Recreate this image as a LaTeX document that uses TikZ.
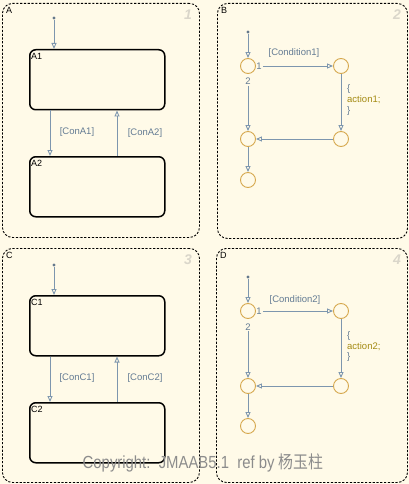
\documentclass[tikz,border=0pt]{standalone}
\usepackage{fontspec}
\setmainfont{Liberation Sans}
\newfontfamily\cjkfont{Noto Sans CJK SC}
\usetikzlibrary{arrows.meta}
\definecolor{bgcol}{HTML}{FFFAE8}
\definecolor{transcol}{HTML}{7D96AE}
\definecolor{labcol}{HTML}{637B93}
\definecolor{juncol}{HTML}{D6A84E}
\definecolor{actcol}{HTML}{A48A12}
\definecolor{numcol}{HTML}{DAD6CA}
\definecolor{copycol}{HTML}{8C8C8C}
\begin{document}
\begin{tikzpicture}[x=1pt,y=-1pt,
  panel/.style={draw=black, dash pattern=on 2.2pt off 1.6pt, line width=0.9pt, rounded corners=10pt, fill=bgcol, inner sep=0pt, anchor=north west},
  statebox/.style={draw=black, line width=1.5pt, rounded corners=6pt, minimum width=135pt, minimum height=60pt, inner sep=0pt, anchor=north west},
  junc/.style={circle, draw=juncol, line width=0.9pt, minimum size=15pt, inner sep=0pt},
  dflt/.style={circle, fill=transcol!80!black, minimum size=3.2pt, inner sep=0pt},
  trans/.style={draw=transcol, line width=0.9pt, -{Triangle[open, length=6pt, width=5pt]}},
  lab/.style={text=labcol, font=\fontsize{9.5}{10}\selectfont, inner sep=0pt},
  act/.style={text=actcol, font=\fontsize{9.5}{10}\selectfont, inner sep=0pt, anchor=west},
  brace/.style={text=labcol, font=\fontsize{9.5}{10}\selectfont, inner sep=0pt, anchor=west},
  pname/.style={font=\fontsize{9}{9}\selectfont, inner sep=0pt, anchor=west},
  pnum/.style={text=numcol, font=\fontsize{14}{14}\selectfont\bfseries\itshape, inner sep=0pt}
]
\fill[bgcol] (0,0) rectangle (409,484);
\useasboundingbox (0,0) rectangle (409,484);

% ---------- Panel A ----------
\node[panel, minimum width=197pt, minimum height=234pt] (PA) at (2,3) {};
\node[pname] (nA) at (6,10) {A};
\node[pnum] (kA) at (188,15) {1};
\node[statebox] (A1) at (29,49) {};
\node[statebox] (A2) at (29,156) {};
\node[pname] (nA1) at (31,56) {A1};
\node[pname] (nA2) at (31,163) {A2};
\node[dflt] (dA) at (54,18) {};
\draw[trans] (dA) -- ([xshift=25pt]A1.north west);
\draw[trans] ([xshift=21pt]A1.south west) -- ([xshift=21pt]A2.north west);
\draw[trans] ([xshift=88pt]A2.north west) -- ([xshift=88pt]A1.south west);
\node[lab] (cA1) at (77,132) {[ConA1]};
\node[lab] (cA2) at (145,133) {[ConA2]};

% ---------- Panel B ----------
\node[panel, minimum width=190pt, minimum height=235pt] (PB) at (217,3) {};
\node[pname] (nB) at (221,10) {B};
\node[pnum] (kB) at (397,15) {2};
\node[dflt] (dB) at (248,32) {};
\node[junc] (B1) at (248,66) {};
\node[junc] (B2) at (341,66) {};
\node[junc] (B3) at (341,139) {};
\node[junc] (B4) at (248,139) {};
\node[junc] (B5) at (248,180) {};
\draw[trans] (dB) -- (B1);
\draw[trans, shorten <=7pt] (B1) -- (B2);
\draw[trans] (B2) -- (B3);
\draw[trans] (B3) -- (B4);
\draw[trans, shorten <=12pt] (B1) -- (B4);
\draw[trans] (B4) -- (B5);
\node[lab] (cB) at (294,53) {[Condition1]};
\node[lab] (oB1) at (259,66) {1};
\node[lab] (oB2) at (248,81) {2};
\node[brace] (bB1) at (347,89) {\{};
\node[act] (aB) at (347,100) {action1;};
\node[brace] (bB2) at (347,111) {\}};

% ---------- Panel C ----------
\node[panel, minimum width=197pt, minimum height=234pt] (PC) at (2,248) {};
\node[pname] (nC) at (6,255) {C};
\node[pnum] (kC) at (188,260) {3};
\node[statebox] (C1) at (29,295) {};
\node[statebox] (C2) at (29,402) {};
\node[pname] (nC1) at (31,302) {C1};
\node[pname] (nC2) at (31,409) {C2};
\node[dflt] (dC) at (54,265) {};
\draw[trans] (dC) -- ([xshift=25pt]C1.north west);
\draw[trans] ([xshift=21pt]C1.south west) -- ([xshift=21pt]C2.north west);
\draw[trans] ([xshift=88pt]C2.north west) -- ([xshift=88pt]C1.south west);
\node[lab] (cC1) at (77,378) {[ConC1]};
\node[lab] (cC2) at (145,378) {[ConC2]};

% ---------- Panel D ----------
\node[panel, minimum width=191pt, minimum height=234pt] (PD) at (216,248) {};
\node[pname] (nD) at (220,255) {D};
\node[pnum] (kD) at (397,260) {4};
\node[dflt] (dD) at (248,277) {};
\node[junc] (D1) at (248,311) {};
\node[junc] (D2) at (341,311) {};
\node[junc] (D3) at (341,386) {};
\node[junc] (D4) at (248,386) {};
\node[junc] (D5) at (248,426) {};
\draw[trans] (dD) -- (D1);
\draw[trans, shorten <=7pt] (D1) -- (D2);
\draw[trans] (D2) -- (D3);
\draw[trans] (D3) -- (D4);
\draw[trans, shorten <=12pt] (D1) -- (D4);
\draw[trans] (D4) -- (D5);
\node[lab] (cD) at (295,300) {[Condition2]};
\node[lab] (oD1) at (259,311) {1};
\node[lab] (oD2) at (248,327) {2};
\node[brace] (bD1) at (347,336) {\{};
\node[act] (aD) at (347,347) {action2;};
\node[brace] (bD2) at (347,357) {\}};

% ---------- Copyright ----------
\node[text=copycol, inner sep=0pt] (copy) at (203,463)
  {\scalebox{0.85}[1]{\fontsize{17.5}{17.5}\selectfont Copyright:\ \ JMAAB5.1\ \ ref by {\cjkfont 杨玉柱}}};
\end{tikzpicture}
\end{document}
